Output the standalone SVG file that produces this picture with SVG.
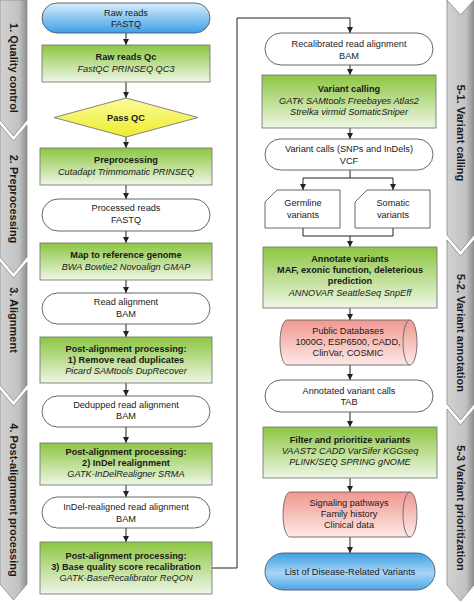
<svg xmlns="http://www.w3.org/2000/svg" width="474" height="602" viewBox="0 0 474 602">
<defs>
<linearGradient id="gBlue" x1="0" y1="0" x2="0" y2="1"><stop offset="0" stop-color="#d9eefc"/><stop offset="1" stop-color="#3d9fe6"/></linearGradient>
<linearGradient id="gBlue2" x1="0" y1="0" x2="0" y2="1"><stop offset="0" stop-color="#3d9fe6"/><stop offset="0.55" stop-color="#a9d5f5"/><stop offset="1" stop-color="#4aa5e6"/></linearGradient>
<linearGradient id="gGreen" x1="0" y1="0" x2="0" y2="1"><stop offset="0" stop-color="#8cc641"/><stop offset="1" stop-color="#eef6e5"/></linearGradient>
<linearGradient id="gYellow" x1="0" y1="0" x2="0" y2="1"><stop offset="0" stop-color="#fbfb9a"/><stop offset="1" stop-color="#eeec2e"/></linearGradient>
<linearGradient id="gPink" x1="0" y1="0" x2="0" y2="1"><stop offset="0" stop-color="#f0988f"/><stop offset="1" stop-color="#fde9e7"/></linearGradient>
<linearGradient id="gGray" x1="0" y1="0" x2="1" y2="0"><stop offset="0" stop-color="#d2d2d2"/><stop offset="0.7" stop-color="#c2c2c2"/><stop offset="1" stop-color="#8e8e8e"/></linearGradient>
<marker id="ah" markerWidth="6" markerHeight="6" refX="6" refY="3" orient="auto" markerUnits="userSpaceOnUse"><path d="M0,0 L6,3 L0,6 Z" fill="#222"/></marker>
</defs>
<style>
.banner{fill:url(#gGray);stroke:#8a8a8a;stroke-width:0.8}
.bt{font-family:"Liberation Sans",Arial,sans-serif;font-size:11px;font-weight:bold;fill:#1a1a1a;text-anchor:middle}
.green{fill:url(#gGreen);stroke:#7a7a7a;stroke-width:0.9}
.white{fill:#ffffff;stroke:#555;stroke-width:0.9}
.blue{fill:url(#gBlue);stroke:#4d5a66;stroke-width:0.9}
.blue2{fill:url(#gBlue2);stroke:#4d5a66;stroke-width:0.9}
.yellow{fill:url(#gYellow);stroke:#777;stroke-width:0.9}
.pink{fill:url(#gPink);stroke:#666;stroke-width:0.9}
text{font-family:"Liberation Sans",Arial,sans-serif;font-size:9.2px;fill:#1a1a1a;text-anchor:middle}
.b{font-weight:bold}
.i{font-style:italic}
.c{fill:none;stroke:#222;stroke-width:1}
.a{marker-end:url(#ah)}
</style>
<rect width="474" height="602" fill="#ffffff"/>
<g id="banners">
<g id="b1"><path class="banner" d="M0,0 H27 V120 L13.5,136 L0,120 Z"/><text class="bt" transform="translate(13.5,68) rotate(90)" y="4">1. Quality control</text></g>
<g id="b2"><path class="banner" d="M0,125 L13.5,141 L27,125 V257 L13.5,273 L0,257 Z"/><text class="bt" transform="translate(13.5,199) rotate(90)" y="4">2. Preprocessing</text></g>
<g id="b3"><path class="banner" d="M0,262 L13.5,278 L27,262 V385 L13.5,401 L0,385 Z"/><text class="bt" transform="translate(13.5,320) rotate(90)" y="4">3. Alignment</text></g>
<g id="b4"><path class="banner" d="M0,390 L13.5,406 L27,390 V584 L13.5,600 L0,584 Z"/><text class="bt" transform="translate(13.5,500) rotate(90)" y="4">4. Post-alignment processing</text></g>
<g id="b51"><path class="banner" d="M447,0 L460.5,15 L474,0 V235 L460.5,251 L447,235 Z"/><text class="bt" transform="translate(460.5,133) rotate(90)" y="4">5-1. Variant calling</text></g>
<g id="b52"><path class="banner" d="M447,240 L460.5,256 L474,240 V404 L460.5,420 L447,404 Z"/><text class="bt" transform="translate(460.5,333) rotate(90)" y="4">5-2. Variant annotation</text></g>
<g id="b53"><path class="banner" d="M447,409 L460.5,425 L474,409 V585 L460.5,601 L447,585 Z"/><text class="bt" transform="translate(460.5,508) rotate(90)" y="4">5-3 Variant prioritization</text></g>
</g>
<g id="connectors">
<path class="c a" d="M126,33 V45"/>
<path class="c a" d="M126,82 V98"/>
<path class="c a" d="M126,137 V148"/>
<path class="c a" d="M126,185 V199"/>
<path class="c a" d="M126,231 V243"/>
<path class="c a" d="M126,280 V293"/>
<path class="c a" d="M126,324 V337"/>
<path class="c a" d="M126,383 V396"/>
<path class="c a" d="M126,427 V443"/>
<path class="c a" d="M126,485 V497"/>
<path class="c a" d="M126,528 V542"/>
<path class="c a" d="M212,568 H237 V18 H350 V33"/>
<path class="c a" d="M350,65 V75"/>
<path class="c a" d="M350,128 V139"/>
<path class="c" d="M350,170 V178 M303,178 H393"/>
<path class="c a" d="M303,178 V190"/>
<path class="c a" d="M393,178 V190"/>
<path class="c" d="M303,228 V236 H393 V228"/>
<path class="c a" d="M350,236 V247"/>
<path class="c a" d="M350,308 V320"/>
<path class="c a" d="M350,365 V380"/>
<path class="c a" d="M350,412 V427"/>
<path class="c a" d="M350,478 V492"/>
<path class="c a" d="M350,537 V553"/>
</g>
<g id="n1"><rect class="blue" x="42" y="3" width="168" height="30" rx="15"/><text x="126" y="15.5">Raw reads</text><text x="126" y="27">FASTQ</text></g>
<g id="n2"><rect class="green" x="42" y="45" width="168" height="37"/><text class="b" x="126" y="60">Raw reads Qc</text><text class="i" x="126" y="72">FastQC PRINSEQ QC3</text></g>
<g id="n3"><polygon class="yellow" points="126,98 198,117.5 126,137 54,117.5"/><text class="b" x="126" y="121">Pass QC</text></g>
<g id="n4"><rect class="green" x="40" y="148" width="172" height="37"/><text class="b" x="126" y="163">Preprocessing</text><text class="i" x="126" y="175">Cutadapt Trimmomatic PRINSEQ</text></g>
<g id="n5"><rect class="white" x="42" y="199" width="168" height="32" rx="16"/><text x="126" y="211">Processed reads</text><text x="126" y="222.5">FASTQ</text></g>
<g id="n6"><rect class="green" x="40" y="243" width="172" height="37"/><text class="b" x="126" y="258">Map to reference genome</text><text class="i" x="126" y="270">BWA Bowtie2 Novoalign GMAP</text></g>
<g id="n7"><rect class="white" x="42" y="293" width="168" height="31" rx="15.5"/><text x="126" y="305">Read alignment</text><text x="126" y="316.5">BAM</text></g>
<g id="n8"><rect class="green" x="40" y="337" width="172" height="46"/><text class="b" x="126" y="351.5">Post-alignment processing:</text><text class="b" x="126" y="362.5">1) Remove read duplicates</text><text class="i" x="126" y="373.5">Picard SAMtools DupRecover</text></g>
<g id="n9"><rect class="white" x="42" y="396" width="168" height="31" rx="15.5"/><text x="126" y="407.5">Dedupped read alignment</text><text x="126" y="419">BAM</text></g>
<g id="n10"><rect class="green" x="40" y="443" width="172" height="42"/><text class="b" x="126" y="454.5">Post-alignment processing:</text><text class="b" x="126" y="465.5">2) InDel realignment</text><text class="i" x="126" y="476.5">GATK-InDelRealigner SRMA</text></g>
<g id="n11"><rect class="white" x="42" y="497" width="168" height="31" rx="15.5"/><text x="126" y="510">InDel-realigned read alignment</text><text x="126" y="521.5">BAM</text></g>
<g id="n12"><rect class="green" x="40" y="542" width="172" height="52"/><text class="b" x="126" y="558.5">Post-alignment processing:</text><text class="b" x="126" y="569.5">3) Base quality score recalibration</text><text class="i" x="126" y="580.5">GATK-BaseRecalibrator ReQON</text></g>
<g id="r1"><rect class="white" x="265" y="33" width="168" height="32" rx="16"/><text x="349" y="47">Recalibrated read alignment</text><text x="349" y="58.5">BAM</text></g>
<g id="r2"><rect class="green" x="262" y="75" width="174" height="53"/><text class="b" x="349" y="92">Variant calling</text><text class="i" x="349" y="103.5">GATK SAMtools Freebayes Atlas2</text><text class="i" x="349" y="115">Strelka virmid SomaticSniper</text></g>
<g id="r3"><rect class="white" x="265" y="139" width="168" height="31" rx="15.5"/><text x="349" y="152">Variant calls (SNPs and InDels)</text><text x="349" y="163.5">VCF</text></g>
<g id="r4"><path class="white" d="M277,190 H340 V228 H265 V202 Z"/><text x="303" y="206">Germline</text><text x="303" y="218">variants</text></g>
<g id="r5"><path class="white" d="M367,190 H430 V228 H355 V202 Z"/><text x="393" y="206">Somatic</text><text x="393" y="218">variants</text></g>
<g id="r6"><rect class="green" x="263" y="247" width="174" height="61"/><text class="b" x="350" y="262">Annotate variants</text><text class="b" x="350" y="273">MAF, exonic function, deleterious</text><text class="b" x="350" y="284">prediction</text><text class="i" x="350" y="295.5">ANNOVAR SeattleSeq SnpEff</text></g>
<g id="r7"><path class="pink" d="M287,320 H410 A7,22.5 0 0 1 410,365 H287 A7,22.5 0 0 1 287,320 Z"/><path class="pink" d="M410,320 A7,22.5 0 0 0 410,365" fill="none"/><text x="348" y="334">Public Databases</text><text x="348" y="345">1000G, ESP6500, CADD,</text><text x="348" y="356">ClinVar, COSMIC</text></g>
<g id="r8"><rect class="white" x="265" y="380" width="168" height="32" rx="16"/><text x="349" y="393.5">Annotated variant calls</text><text x="349" y="404.5">TAB</text></g>
<g id="r9"><rect class="green" x="263" y="427" width="174" height="51"/><text class="b" x="350" y="443">Filter and prioritize variants</text><text class="i" x="350" y="454">VAAST2 CADD VarSifer KGGseq</text><text class="i" x="350" y="465">PLINK/SEQ SPRING gNOME</text></g>
<g id="r10"><path class="pink" d="M290,492 H410 A7,22.5 0 0 1 410,537 H290 A7,22.5 0 0 1 290,492 Z"/><path class="pink" d="M410,492 A7,22.5 0 0 0 410,537" fill="none"/><text x="349" y="506">Signaling pathways</text><text x="349" y="517">Family history</text><text x="349" y="528">Clinical data</text></g>
<g id="r11"><rect class="blue2" x="265" y="553" width="170" height="37" rx="18.5"/><text x="350" y="574.5">List of Disease-Related Variants</text></g>
</svg>
